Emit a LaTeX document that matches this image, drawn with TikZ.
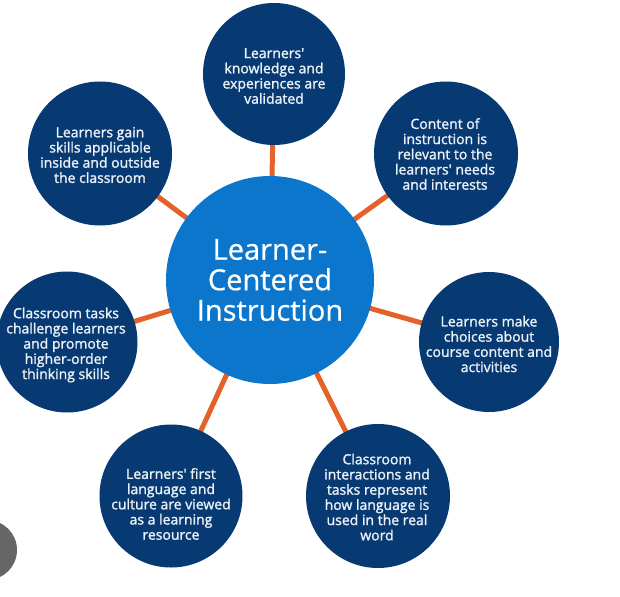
\documentclass[tikz,border=0pt]{standalone}
\usepackage{fontspec}
\setmainfont{Open Sans}
\newfontfamily\smallfont{Open Sans}[FakeBold=1.5]
\newfontfamily\hubfont{Open Sans}[FakeBold=0.6]
\usetikzlibrary{backgrounds}
\definecolor{navy}{RGB}{7,58,115}
\definecolor{midblue}{RGB}{12,118,204}
\definecolor{conn}{RGB}{226,98,42}
\definecolor{grayc}{RGB}{102,102,102}
\definecolor{txt}{RGB}{236,241,247}
\tikzset{
  outer/.style={circle, fill=navy, inner sep=0pt, minimum size=#1},
  lbl/.style={inner sep=0pt, align=center, text=txt,
    font=\smallfont\fontsize{14}{15.2}\selectfont},
  hub/.style={circle, fill=midblue, inner sep=0pt, minimum size=208pt, align=center,
    text=white, font=\hubfont\fontsize{29}{30.5}\selectfont},
  link/.style={draw=conn, line width=5pt}
}
\begin{document}
\begin{tikzpicture}[x=1pt,y=-1pt]
\useasboundingbox (0,0) rectangle (620,596);
\clip (0,0) rectangle (620,596);
\node[hub] (c) at (270,280) {Learner-\\Centered\\Instruction};
\node[outer=142pt] (t) at (274,74) {};
\node[outer=144pt] (tr) at (446,153.5) {};
\node[outer=144pt] (tl) at (100,153.5) {};
\node[outer=141pt] (l) at (67,342) {};
\node[outer=140pt] (r) at (489,342) {};
\node[outer=143pt] (bl) at (171,496) {};
\node[outer=144pt] (br) at (378,496) {};
\node[lbl] (tx1) at (274,76) {Learners'\\knowledge and\\experiences are\\validated};
\node[lbl] (tx2) at (445,154) {Content of\\instruction is\\relevant to the\\learners' needs\\and interests};
\node[lbl] (tx3) at (100,155) {Learners gain\\skills applicable\\inside and outside\\the classroom};
\node[lbl] (tx4) at (66,345) {Classroom tasks\\challenge learners\\and promote\\higher-order\\thinking skills};
\node[lbl] (tx5) at (489,344) {Learners make\\choices about\\course content and\\activities};
\node[lbl] (tx6) at (171,504) {Learners' first\\language and\\culture are viewed\\as a learning\\resource};
\node[lbl] (tx7) at (377,497) {Classroom\\interactions and\\tasks represent\\how language is\\used in the real\\word};
\node[circle, fill=grayc, minimum size=60pt, inner sep=0pt] (g) at (-13,550) {};
\begin{scope}[on background layer]
\fill[white] (0,0) rectangle (620,596);
\foreach \n in {t,tr,tl,l,r,bl,br} \draw[link] (c.center) -- (\n.center);
\end{scope}
\end{tikzpicture}
\end{document}
